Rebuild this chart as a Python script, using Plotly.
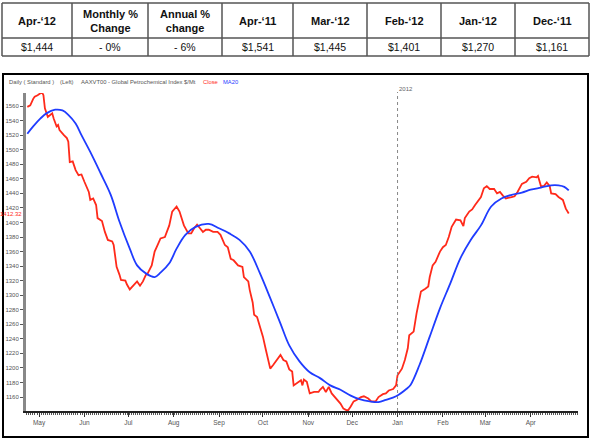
import plotly.graph_objects as go

# ---------------- data ----------------
table_headers = ["Apr-‘12", "Monthly %<br>Change", "Annual %<br>change", "Apr-‘11",
                 "Mar-‘12", "Feb-‘12", "Jan-‘12", "Dec-‘11"]
table_values = ["$1,444", "- 0%", "- 6%", "$1,541", "$1,445", "$1,401", "$1,270", "$1,161"]

close_dates = [
    "2011-04-23", "2011-04-25", "2011-04-27", "2011-04-28", "2011-04-30", "2011-05-03", "2011-05-04",
    "2011-05-05", "2011-05-07", "2011-05-09", "2011-05-10", "2011-05-11", "2011-05-13", "2011-05-14",
    "2011-05-15", "2011-05-18", "2011-05-20", "2011-05-21", "2011-05-22", "2011-05-24", "2011-05-26",
    "2011-05-28", "2011-05-30", "2011-06-01", "2011-06-04", "2011-06-05", "2011-06-07", "2011-06-09",
    "2011-06-10", "2011-06-13", "2011-06-15", "2011-06-17", "2011-06-20", "2011-06-21", "2011-06-23",
    "2011-06-25", "2011-06-26", "2011-06-29", "2011-06-30", "2011-07-02", "2011-07-04", "2011-07-06",
    "2011-07-07", "2011-07-09", "2011-07-11", "2011-07-13", "2011-07-14", "2011-07-17", "2011-07-19",
    "2011-07-21", "2011-07-23", "2011-07-26", "2011-07-28", "2011-07-29", "2011-07-31", "2011-08-03",
    "2011-08-05", "2011-08-06", "2011-08-08", "2011-08-11", "2011-08-13", "2011-08-15", "2011-08-17",
    "2011-08-19", "2011-08-21", "2011-08-23", "2011-08-25", "2011-08-28", "2011-08-31", "2011-09-02",
    "2011-09-05", "2011-09-07", "2011-09-09", "2011-09-11", "2011-09-14", "2011-09-17", "2011-09-18",
    "2011-09-21", "2011-09-22", "2011-09-24", "2011-09-25", "2011-09-27", "2011-09-29", "2011-10-01",
    "2011-10-03", "2011-10-05", "2011-10-06", "2011-10-08", "2011-10-11", "2011-10-13", "2011-10-15",
    "2011-10-17", "2011-10-19", "2011-10-21", "2011-10-22", "2011-10-24", "2011-10-27", "2011-10-28",
    "2011-10-29", "2011-10-31", "2011-11-02", "2011-11-05", "2011-11-08", "2011-11-09", "2011-11-11",
    "2011-11-13", "2011-11-15", "2011-11-17", "2011-11-20", "2011-11-23", "2011-11-25", "2011-11-28",
    "2011-11-30", "2011-12-02", "2011-12-04", "2011-12-07", "2011-12-09", "2011-12-12", "2011-12-14",
    "2011-12-17", "2011-12-19", "2011-12-22", "2011-12-24", "2011-12-26", "2011-12-29", "2011-12-31",
    "2012-01-01", "2012-01-04", "2012-01-06", "2012-01-08", "2012-01-09", "2012-01-12", "2012-01-14",
    "2012-01-17", "2012-01-20", "2012-01-22", "2012-01-23", "2012-01-25", "2012-01-27", "2012-01-30",
    "2012-02-01", "2012-02-03", "2012-02-05", "2012-02-07", "2012-02-10", "2012-02-13", "2012-02-15",
    "2012-02-16", "2012-02-19", "2012-02-21", "2012-02-23", "2012-02-25", "2012-02-27", "2012-02-29",
    "2012-03-02", "2012-03-04", "2012-03-07", "2012-03-09", "2012-03-11", "2012-03-13", "2012-03-15",
    "2012-03-19", "2012-03-21", "2012-03-23", "2012-03-26", "2012-03-29", "2012-03-31", "2012-04-02",
    "2012-04-05", "2012-04-06", "2012-04-08", "2012-04-10", "2012-04-12", "2012-04-14", "2012-04-15",
    "2012-04-18", "2012-04-20", "2012-04-23", "2012-04-25", "2012-04-27",
]
close_values = [
    1559, 1561, 1570, 1573, 1575, 1579, 1575,
    1557, 1545, 1548, 1550, 1543, 1532, 1534,
    1527, 1520, 1516, 1511, 1483, 1484, 1472,
    1465, 1466, 1456, 1442, 1431, 1433, 1424,
    1406, 1402, 1387, 1376, 1374, 1369, 1339,
    1328, 1321, 1320, 1315, 1308, 1312, 1316,
    1319, 1313, 1319, 1328, 1329, 1341, 1360,
    1369, 1378, 1380, 1392, 1396, 1415, 1422,
    1415, 1408, 1396, 1385, 1385, 1392, 1397,
    1392, 1387, 1390, 1390, 1387, 1387, 1383,
    1369, 1366, 1350, 1348, 1341, 1339, 1325,
    1319, 1307, 1290, 1273, 1270, 1257, 1243,
    1225, 1206, 1199, 1204, 1213, 1218, 1211,
    1209, 1198, 1195, 1176, 1179, 1183, 1176,
    1184, 1181, 1165, 1167, 1167, 1170, 1174,
    1167, 1174, 1165, 1158, 1151, 1144, 1141,
    1147, 1154, 1156, 1160, 1161, 1158, 1154,
    1154, 1160, 1164, 1165, 1169, 1171, 1176,
    1190, 1199, 1211, 1227, 1245, 1250, 1275,
    1305, 1309, 1312, 1325, 1341, 1346, 1360,
    1366, 1369, 1380, 1394, 1404, 1403, 1395,
    1406, 1415, 1418, 1424, 1429, 1435, 1447,
    1450, 1446, 1446, 1440, 1442, 1437, 1433,
    1435, 1436, 1442, 1453, 1456, 1461, 1463,
    1462, 1464, 1450, 1450, 1455, 1450, 1440,
    1439, 1435, 1431, 1419, 1412.32,
]

ma20_dates = [
    "2011-04-23", "2011-04-27", "2011-05-02", "2011-05-06", "2011-05-12", "2011-05-17", "2011-05-21",
    "2011-05-26", "2011-05-30", "2011-06-05", "2011-06-12", "2011-06-19", "2011-06-25", "2011-07-02",
    "2011-07-07", "2011-07-13", "2011-07-19", "2011-07-23", "2011-07-29", "2011-08-03", "2011-08-09",
    "2011-08-16", "2011-08-25", "2011-09-01", "2011-09-08", "2011-09-15", "2011-09-22", "2011-09-29",
    "2011-10-06", "2011-10-13", "2011-10-19", "2011-10-26", "2011-11-02", "2011-11-09", "2011-11-16",
    "2011-11-23", "2011-11-30", "2011-12-06", "2011-12-13", "2011-12-19", "2011-12-24", "2011-12-31",
    "2012-01-07", "2012-01-10", "2012-01-16", "2012-01-23", "2012-01-30", "2012-02-06", "2012-02-13",
    "2012-02-20", "2012-02-27", "2012-03-05", "2012-03-12", "2012-03-19", "2012-03-26", "2012-04-01",
    "2012-04-08", "2012-04-15", "2012-04-20", "2012-04-24", "2012-04-27",
]
ma20_values = [
    1522, 1532, 1543, 1550, 1555, 1554, 1548,
    1536, 1520, 1497, 1468, 1438, 1401, 1364,
    1341, 1330, 1325, 1331, 1344, 1364, 1383,
    1394, 1398, 1392, 1385, 1376, 1360, 1330,
    1296, 1261, 1231, 1209, 1194, 1186, 1176,
    1170, 1162, 1157, 1154, 1153, 1156, 1161,
    1171, 1177, 1204, 1243, 1282, 1316, 1351,
    1376, 1396, 1422, 1433, 1438, 1441, 1445,
    1448, 1451, 1451, 1449, 1444,
]

y_ticks = list(range(1160, 1561, 20))
month_ticks = ["2011-05-01", "2011-06-01", "2011-07-01", "2011-08-01", "2011-09-01", "2011-10-01",
               "2011-11-01", "2011-12-01", "2012-01-01", "2012-02-01", "2012-03-01", "2012-04-01"]
month_labels = ["May", "Jun", "Jul", "Aug", "Sep", "Oct", "Nov", "Dec", "Jan", "Feb", "Mar", "Apr"]
last_close_label = "1412.32"
year_label = "2012"
year_start = "2012-01-01"

# ---------------- figure ----------------
W, H = 593, 440
FONT = "Liberation Sans, Arial, sans-serif"
RED = "#ff2a1a"
BLUE = "#1f3cff"


def px_x(p):
    return p / W


def px_y(p):
    return 1 - p / H


fig = go.Figure()

fig.add_trace(go.Scatter(
    x=close_dates, y=close_values, mode="lines",
    line=dict(color=RED, width=1.8), name="Close", hoverinfo="skip",
))
fig.add_trace(go.Scatter(
    x=ma20_dates, y=ma20_values, mode="lines", line_shape="spline",
    line=dict(color=BLUE, width=1.8), name="MA20", hoverinfo="skip",
))

fig.update_layout(
    width=W, height=H,
    margin=dict(l=0, r=0, t=0, b=0),
    paper_bgcolor="white", plot_bgcolor="white",
    showlegend=False,
    font=dict(family=FONT, size=6, color="#555"),
    xaxis=dict(
        domain=[px_x(26), px_x(578)],
        type="date",
        range=["2011-04-22 02:00", "2012-05-03 08:00"],
        tickmode="array", tickvals=month_ticks, ticktext=month_labels,
        ticks="outside", ticklen=4, tickcolor="#333", tickwidth=1,
        minor=dict(ticks="outside", ticklen=2.5, tickcolor="#555", dtick=86400000 * 1.4,
                   tick0="2011-05-01", showgrid=False),
        showline=True, linecolor="#222", linewidth=1.5,
        showgrid=False, zeroline=False,
        tickfont=dict(size=6.5, color="#555"),
    ),
    yaxis=dict(
        domain=[px_y(411), px_y(93)],
        range=[1140.8, 1578],
        tickmode="array", tickvals=y_ticks,
        ticks="outside", ticklen=3, tickcolor="#555",
        showline=True, linecolor="#888", linewidth=3,
        showgrid=False, zeroline=False,
        tickfont=dict(size=6, color="#555"),
    ),
)

# ---------------- table (drawn from the arrays) ----------------
col_edges = [2, 72, 148, 222, 293, 367, 441, 515, 589]
row_edges = [3, 38, 56]
tbl_line = dict(color="#555", width=1.5)
for ry in row_edges:
    fig.add_shape(type="line", xref="paper", yref="paper",
                  x0=px_x(col_edges[0]), x1=px_x(col_edges[-1]), y0=px_y(ry), y1=px_y(ry),
                  line=tbl_line)
for cx in col_edges:
    fig.add_shape(type="line", xref="paper", yref="paper",
                  x0=px_x(cx), x1=px_x(cx), y0=px_y(row_edges[0]), y1=px_y(row_edges[-1]),
                  line=tbl_line)
for i, (hd, val) in enumerate(zip(table_headers, table_values)):
    cx = (col_edges[i] + col_edges[i + 1]) / 2
    fig.add_annotation(x=px_x(cx), xref="paper", y=px_y((row_edges[0] + row_edges[1]) / 2), yref="paper",
                       text=f"<b>{hd}</b>", showarrow=False, align="center",
                       xanchor="center", yanchor="middle",
                       font=dict(size=11, color="#111", family=FONT))
    fig.add_annotation(x=px_x(cx), xref="paper", y=px_y((row_edges[1] + row_edges[2]) / 2 + 0.5), yref="paper",
                       text=val, showarrow=False, xanchor="center", yanchor="middle",
                       font=dict(size=10.5, color="#111", family=FONT))

# chart frame
fig.add_shape(type="rect", xref="paper", yref="paper",
              x0=px_x(3), x1=px_x(588), y0=px_y(437), y1=px_y(74),
              line=dict(color="black", width=2), fillcolor="rgba(0,0,0,0)", layer="below")

# 2012 marker
fig.add_shape(type="line", xref="x", yref="paper",
              x0=year_start, x1=year_start, y0=px_y(411), y1=px_y(92),
              line=dict(color="#888", width=1, dash="dot"))
fig.add_annotation(x=year_start, xref="x", y=px_y(89), yref="paper",
                   text=year_label, showarrow=False, xanchor="left", yanchor="middle",
                   xshift=-1, font=dict(size=6, color="#666", family=FONT))

# last value label
fig.add_annotation(x=px_x(24), xref="paper", y=close_values[-1], yref="y",
                   text=last_close_label, showarrow=False, xanchor="right", yanchor="middle",
                   font=dict(size=6, color=RED, family=FONT))

# header legend text
header_parts = [
    ("Daily ( Standard )", 7, "#555"),
    ("(Left)", 58, "#555"),
    ("AAXVT00 - Global Petrochemical Index $/Mt", 79, "#555"),
    ("Close", 201, RED),
    ("MA20", 221, BLUE),
]
for txt, xp, col in header_parts:
    fig.add_annotation(x=px_x(xp), xref="paper", y=px_y(82), yref="paper",
                       text=txt, showarrow=False, xanchor="left", yanchor="middle",
                       font=dict(size=5.8, color=col, family=FONT))

fig.write_html("out.html")
